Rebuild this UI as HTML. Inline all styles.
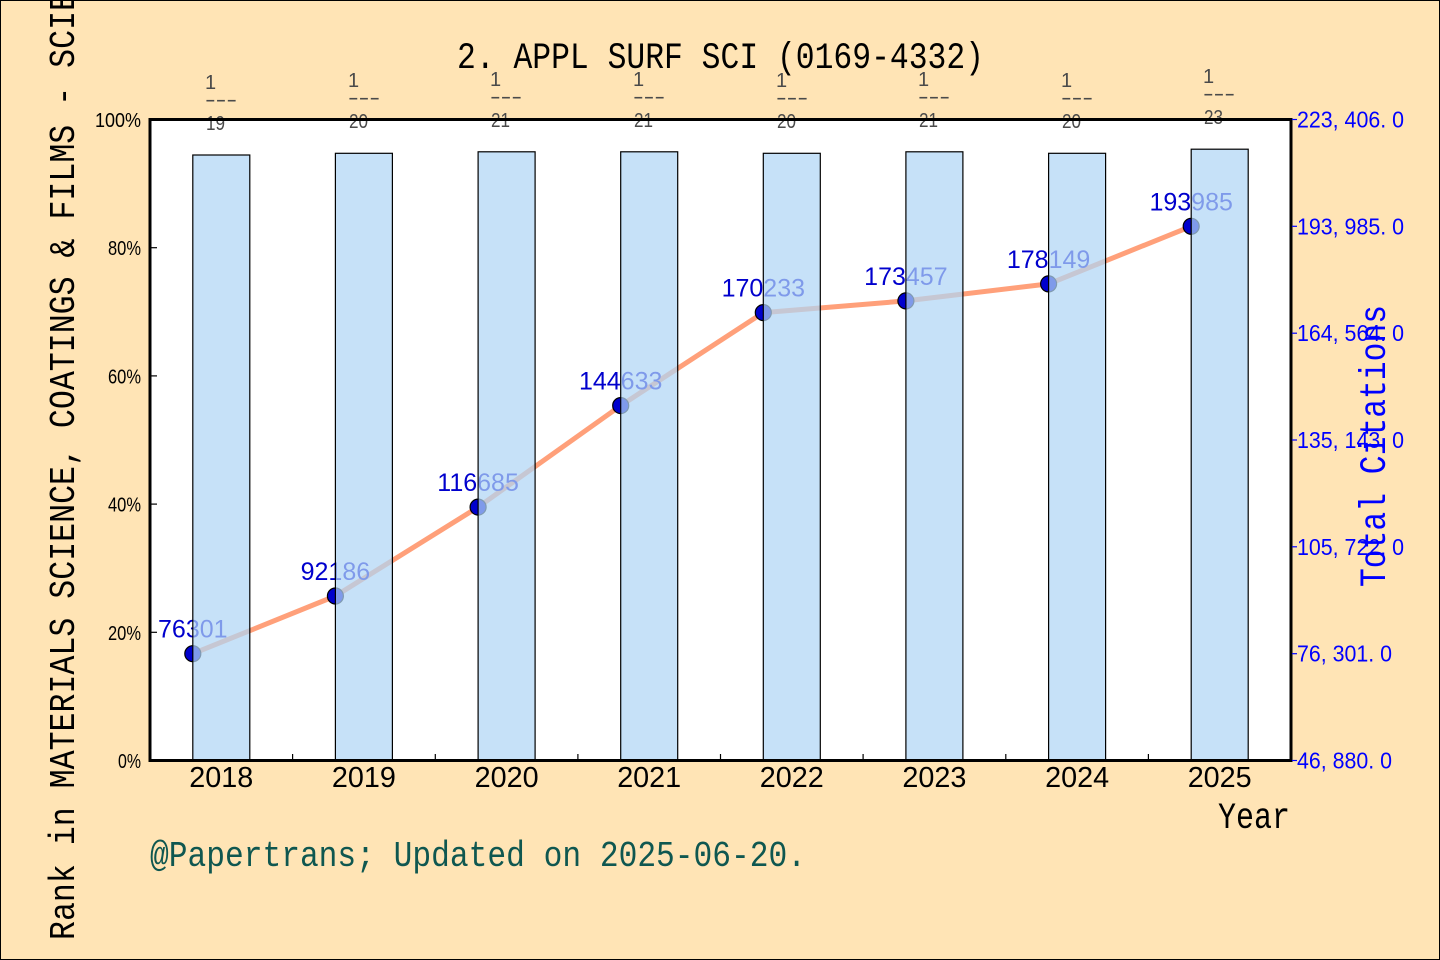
<!DOCTYPE html>
<html><head><meta charset="utf-8"><style>
html,body{margin:0;padding:0;background:#ffe4b5;}
svg{display:block;}
text{font-family:"Liberation Sans","DejaVu Sans",sans-serif;}
.m{font-family:"Liberation Mono","DejaVu Sans Mono",monospace;}
</style></head><body>
<svg width="1440" height="960" viewBox="0 0 1440 960" xmlns="http://www.w3.org/2000/svg">
<rect x="0" y="0" width="1440" height="960" fill="#ffe4b5"/>
<rect x="0.5" y="0.5" width="1439" height="959" fill="none" stroke="#000" stroke-width="1"/>
<!-- plot area -->
<rect x="150" y="119.5" width="1141" height="641" fill="#ffffff"/>

<!-- line -->
<polyline fill="none" stroke="#ffa07a" stroke-width="5" stroke-linejoin="round"
 points="192.8,653.7 335.4,596.0 478.1,507.1 620.7,405.6 763.3,312.6 905.9,300.9 1048.6,283.9 1191.2,226.3"/>
<!-- points -->
<g fill="#0000cd" stroke="#000" stroke-width="1.2">
<circle cx="192.8" cy="653.7" r="8"/>
<circle cx="335.4" cy="596.0" r="8"/>
<circle cx="478.1" cy="507.1" r="8"/>
<circle cx="620.7" cy="405.6" r="8"/>
<circle cx="763.3" cy="312.6" r="8"/>
<circle cx="905.9" cy="300.9" r="8"/>
<circle cx="1048.6" cy="283.9" r="8"/>
<circle cx="1191.2" cy="226.3" r="8"/>
</g>
<!-- point labels -->
<g fill="#0000cd" font-size="25" text-anchor="middle">
<text x="192.8" y="637.7">76301</text>
<text x="335.4" y="580.0">92186</text>
<text x="478.1" y="491.1">116685</text>
<text x="620.7" y="389.6">144633</text>
<text x="763.3" y="296.6">170233</text>
<text x="905.9" y="284.9">173457</text>
<text x="1048.6" y="267.9">178149</text>
<text x="1191.2" y="210.3">193985</text>
</g>
<!-- bars -->
<g fill="rgba(176,213,245,0.72)" stroke="#000" stroke-width="1.2">
<rect x="192.8" y="155.0" width="57" height="605.5"/>
<rect x="335.4" y="153.3" width="57" height="607.2"/>
<rect x="478.1" y="151.8" width="57" height="608.7"/>
<rect x="620.7" y="151.8" width="57" height="608.7"/>
<rect x="763.3" y="153.3" width="57" height="607.2"/>
<rect x="905.9" y="151.8" width="57" height="608.7"/>
<rect x="1048.6" y="153.3" width="57" height="607.2"/>
<rect x="1191.2" y="149.2" width="57" height="611.3"/>
</g>
<!-- rank annotations -->
<g fill="#4a4a4a" font-size="20">
<text x="205" y="89">1</text><text x="205" y="106" textLength="32" lengthAdjust="spacingAndGlyphs">---</text><text x="206" y="130" textLength="19" lengthAdjust="spacingAndGlyphs">19</text>
<text x="348" y="87">1</text><text x="348" y="104" textLength="32" lengthAdjust="spacingAndGlyphs">---</text><text x="349" y="128" textLength="19" lengthAdjust="spacingAndGlyphs">20</text>
<text x="490" y="86">1</text><text x="490" y="103" textLength="32" lengthAdjust="spacingAndGlyphs">---</text><text x="491" y="127" textLength="19" lengthAdjust="spacingAndGlyphs">21</text>
<text x="633" y="86">1</text><text x="633" y="103" textLength="32" lengthAdjust="spacingAndGlyphs">---</text><text x="634" y="127" textLength="19" lengthAdjust="spacingAndGlyphs">21</text>
<text x="776" y="87">1</text><text x="776" y="104" textLength="32" lengthAdjust="spacingAndGlyphs">---</text><text x="777" y="128" textLength="19" lengthAdjust="spacingAndGlyphs">20</text>
<text x="918" y="86">1</text><text x="918" y="103" textLength="32" lengthAdjust="spacingAndGlyphs">---</text><text x="919" y="127" textLength="19" lengthAdjust="spacingAndGlyphs">21</text>
<text x="1061" y="87">1</text><text x="1061" y="104" textLength="32" lengthAdjust="spacingAndGlyphs">---</text><text x="1062" y="128" textLength="19" lengthAdjust="spacingAndGlyphs">20</text>
<text x="1203" y="83">1</text><text x="1203" y="100" textLength="32" lengthAdjust="spacingAndGlyphs">---</text><text x="1204" y="124" textLength="19" lengthAdjust="spacingAndGlyphs">23</text>
</g>

<!-- spines -->
<rect x="150" y="119.5" width="1141" height="641" fill="none" stroke="#000" stroke-width="3"/>
<!-- left ticks (inward) -->
<g stroke="#000" stroke-width="1.2">
<line x1="150" y1="119.5" x2="157" y2="119.5"/>
<line x1="150" y1="247.7" x2="157" y2="247.7"/>
<line x1="150" y1="375.9" x2="157" y2="375.9"/>
<line x1="150" y1="504.1" x2="157" y2="504.1"/>
<line x1="150" y1="632.3" x2="157" y2="632.3"/>
<line x1="150" y1="760.5" x2="157" y2="760.5"/>
</g>
<!-- bottom ticks (inward) -->
<g stroke="#000" stroke-width="1.2">
<line x1="292.6" y1="760.5" x2="292.6" y2="754"/>
<line x1="435.3" y1="760.5" x2="435.3" y2="754"/>
<line x1="577.9" y1="760.5" x2="577.9" y2="754"/>
<line x1="720.5" y1="760.5" x2="720.5" y2="754"/>
<line x1="863.1" y1="760.5" x2="863.1" y2="754"/>
<line x1="1005.8" y1="760.5" x2="1005.8" y2="754"/>
<line x1="1148.4" y1="760.5" x2="1148.4" y2="754"/>
</g>
<!-- right ticks (outward, blue) -->
<g stroke="#0000ff" stroke-width="1.2">
<line x1="1292" y1="119.5" x2="1297" y2="119.5"/>
<line x1="1292" y1="226.3" x2="1297" y2="226.3"/>
<line x1="1292" y1="333.2" x2="1297" y2="333.2"/>
<line x1="1292" y1="440.0" x2="1297" y2="440.0"/>
<line x1="1292" y1="546.8" x2="1297" y2="546.8"/>
<line x1="1292" y1="653.7" x2="1297" y2="653.7"/>
<line x1="1292" y1="760.5" x2="1297" y2="760.5"/>
</g>

<!-- left tick labels -->
<g fill="#000" font-size="20" text-anchor="end">
<text x="141" y="127" textLength="46" lengthAdjust="spacingAndGlyphs">100%</text>
<text x="141" y="255.2" textLength="33" lengthAdjust="spacingAndGlyphs">80%</text>
<text x="141" y="383.4" textLength="33" lengthAdjust="spacingAndGlyphs">60%</text>
<text x="141" y="511.6" textLength="33" lengthAdjust="spacingAndGlyphs">40%</text>
<text x="141" y="639.8" textLength="33" lengthAdjust="spacingAndGlyphs">20%</text>
<text x="141" y="768" textLength="23" lengthAdjust="spacingAndGlyphs">0%</text>
</g>
<!-- right tick labels -->
<g fill="#0000ff" font-size="23">
<text x="1297" y="127.5" textLength="107" lengthAdjust="spacingAndGlyphs">223, 406. 0</text>
<text x="1297" y="234.3" textLength="107" lengthAdjust="spacingAndGlyphs">193, 985. 0</text>
<text x="1297" y="341.2" textLength="107" lengthAdjust="spacingAndGlyphs">164, 564. 0</text>
<text x="1297" y="448.0" textLength="107" lengthAdjust="spacingAndGlyphs">135, 143. 0</text>
<text x="1297" y="554.8" textLength="107" lengthAdjust="spacingAndGlyphs">105, 722. 0</text>
<text x="1297" y="661.7" textLength="95" lengthAdjust="spacingAndGlyphs">76, 301. 0</text>
<text x="1297" y="768.5" textLength="95" lengthAdjust="spacingAndGlyphs">46, 880. 0</text>
</g>
<!-- x tick labels -->
<g fill="#000" font-size="29" text-anchor="middle">
<text x="221.3" y="787" textLength="64" lengthAdjust="spacingAndGlyphs">2018</text>
<text x="363.9" y="787" textLength="64" lengthAdjust="spacingAndGlyphs">2019</text>
<text x="506.6" y="787" textLength="64" lengthAdjust="spacingAndGlyphs">2020</text>
<text x="649.2" y="787" textLength="64" lengthAdjust="spacingAndGlyphs">2021</text>
<text x="791.8" y="787" textLength="64" lengthAdjust="spacingAndGlyphs">2022</text>
<text x="934.4" y="787" textLength="64" lengthAdjust="spacingAndGlyphs">2023</text>
<text x="1077.1" y="787" textLength="64" lengthAdjust="spacingAndGlyphs">2024</text>
<text x="1219.7" y="787" textLength="64" lengthAdjust="spacingAndGlyphs">2025</text>
</g>

<!-- title -->
<text class="m" x="457" y="68" font-size="37" fill="#000" textLength="527" lengthAdjust="spacingAndGlyphs">2. APPL SURF SCI (0169-4332)</text>
<!-- y label left -->
<text class="m" transform="translate(74,940) rotate(-90)" font-size="36" fill="#000" textLength="948" lengthAdjust="spacingAndGlyphs">Rank in MATERIALS SCIENCE, COATINGS &amp; FILMS - SCIE</text>
<!-- right label -->
<text class="m" transform="translate(1385,587) rotate(-90)" font-size="37" fill="#0000ff" textLength="282" lengthAdjust="spacingAndGlyphs">Total Citations</text>
<!-- x label -->
<text class="m" x="1218" y="828" font-size="37" fill="#000" textLength="72" lengthAdjust="spacingAndGlyphs">Year</text>
<!-- footer -->
<text class="m" x="150" y="866" font-size="36" fill="#0f5750" textLength="656" lengthAdjust="spacingAndGlyphs">@Papertrans; Updated on 2025-06-20.</text>
</svg>
</body></html>
